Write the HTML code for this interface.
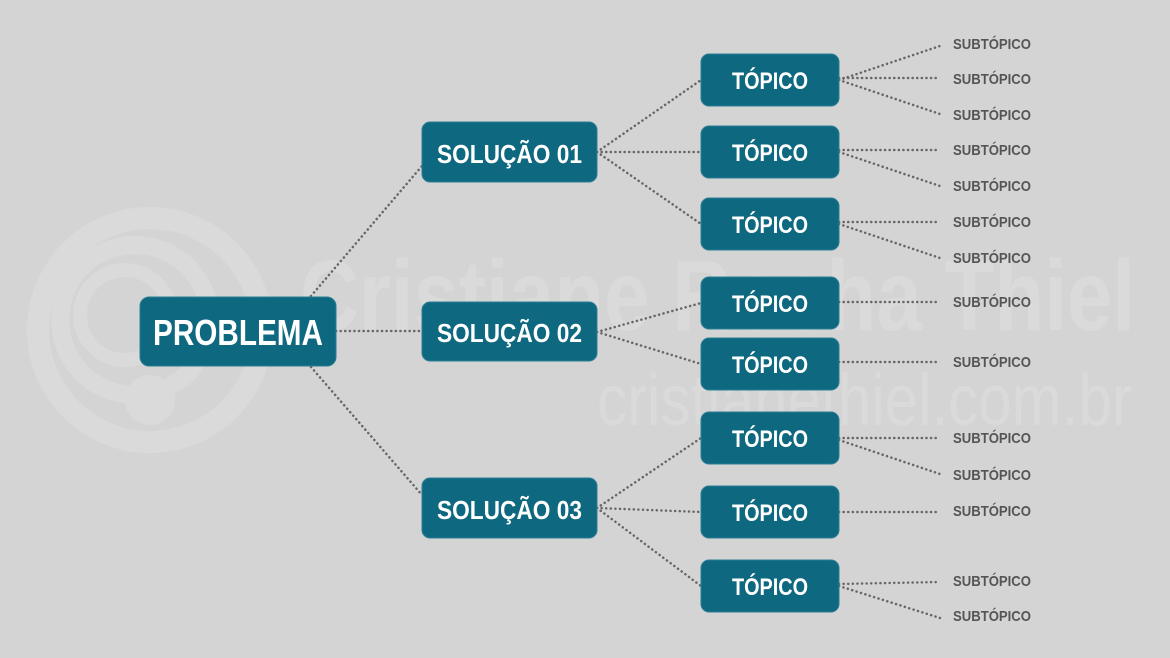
<!DOCTYPE html>
<html><head><meta charset="utf-8"><style>
html,body{margin:0;padding:0;background:#d4d4d4;}
svg{display:block;}
</style></head><body>
<svg width="1170" height="658" viewBox="0 0 1170 658" xmlns="http://www.w3.org/2000/svg">
<rect width="1170" height="658" fill="#d4d4d4"/>
<!-- watermark -->
<g fill="none" stroke="#dadada">
<circle cx="150" cy="330" r="112" stroke-width="22"/>
<circle cx="135" cy="320" r="75" stroke-width="18"/>
<circle cx="125" cy="315" r="45" stroke-width="14"/>
</g>
<circle cx="150" cy="400" r="25" fill="#dadada"/>
<text x="300" y="330" font-family="Liberation Sans, sans-serif" font-weight="bold" font-size="100" fill="#dadada" textLength="835" lengthAdjust="spacingAndGlyphs">Cristiane Rocha Thiel</text>
<text x="597" y="425" font-family="Liberation Sans, sans-serif" font-size="72" fill="#dadada" textLength="535" lengthAdjust="spacingAndGlyphs">cristianethiel.com.br</text>
<!-- connectors -->
<g stroke="#666" stroke-width="2.5" stroke-dasharray="0.1 4.5" stroke-linecap="round" fill="none">
<line x1="311" y1="296" x2="422" y2="166"/>
<line x1="336" y1="331" x2="422" y2="331"/>
<line x1="311" y1="367" x2="422" y2="495"/>
<line x1="597" y1="152" x2="701" y2="80"/>
<line x1="597" y1="152" x2="701" y2="152"/>
<line x1="597" y1="152" x2="701" y2="224"/>
<line x1="597" y1="332" x2="701" y2="303"/>
<line x1="597" y1="332" x2="701" y2="364"/>
<line x1="597" y1="508" x2="701" y2="438"/>
<line x1="597" y1="508" x2="701" y2="512"/>
<line x1="597" y1="508" x2="701" y2="586"/>
<line x1="839" y1="80" x2="940" y2="46"/>
<line x1="839" y1="78" x2="940" y2="78"/>
<line x1="839" y1="80" x2="940" y2="114"/>
<line x1="839" y1="150" x2="940" y2="150"/>
<line x1="839" y1="152" x2="940" y2="186"/>
<line x1="839" y1="222" x2="940" y2="222"/>
<line x1="839" y1="224" x2="940" y2="258"/>
<line x1="839" y1="302" x2="940" y2="302"/>
<line x1="839" y1="362" x2="940" y2="362"/>
<line x1="839" y1="438" x2="940" y2="438"/>
<line x1="839" y1="440" x2="940" y2="474"/>
<line x1="839" y1="512" x2="940" y2="512"/>
<line x1="839" y1="584" x2="940" y2="582"/>
<line x1="839" y1="586" x2="940" y2="618"/>
</g>
<!-- boxes -->
<g fill="#0e6880" stroke="#2a7f94" stroke-width="1">
<rect x="140" y="297" width="196" height="69" rx="9"/>
<rect x="422" y="122" width="175" height="60" rx="8"/>
<rect x="422" y="302" width="175" height="59" rx="8"/>
<rect x="422" y="478" width="175" height="60" rx="8"/>
<rect x="701" y="54" width="138" height="52" rx="8"/>
<rect x="701" y="126" width="138" height="52" rx="8"/>
<rect x="701" y="198" width="138" height="52" rx="8"/>
<rect x="701" y="277" width="138" height="52" rx="8"/>
<rect x="701" y="338" width="138" height="52" rx="8"/>
<rect x="701" y="412" width="138" height="52" rx="8"/>
<rect x="701" y="486" width="138" height="52" rx="8"/>
<rect x="701" y="560" width="138" height="52" rx="8"/>
</g>
<g font-family="Liberation Sans, sans-serif" font-weight="bold" fill="#fff" lengthAdjust="spacingAndGlyphs">
<text x="153" y="345" font-size="36" textLength="170" lengthAdjust="spacingAndGlyphs">PROBLEMA</text>
<text x="437" y="163" font-size="26" textLength="145" lengthAdjust="spacingAndGlyphs">SOLUÇÃO 01</text>
<text x="437" y="342" font-size="26" textLength="145" lengthAdjust="spacingAndGlyphs">SOLUÇÃO 02</text>
<text x="437" y="519" font-size="26" textLength="145" lengthAdjust="spacingAndGlyphs">SOLUÇÃO 03</text>
<text x="732" y="89" font-size="24" textLength="76" lengthAdjust="spacingAndGlyphs">TÓPICO</text>
<text x="732" y="161" font-size="24" textLength="76" lengthAdjust="spacingAndGlyphs">TÓPICO</text>
<text x="732" y="233" font-size="24" textLength="76" lengthAdjust="spacingAndGlyphs">TÓPICO</text>
<text x="732" y="312" font-size="24" textLength="76" lengthAdjust="spacingAndGlyphs">TÓPICO</text>
<text x="732" y="373" font-size="24" textLength="76" lengthAdjust="spacingAndGlyphs">TÓPICO</text>
<text x="732" y="447" font-size="24" textLength="76" lengthAdjust="spacingAndGlyphs">TÓPICO</text>
<text x="732" y="521" font-size="24" textLength="76" lengthAdjust="spacingAndGlyphs">TÓPICO</text>
<text x="732" y="595" font-size="24" textLength="76" lengthAdjust="spacingAndGlyphs">TÓPICO</text>
</g>
<g font-family="Liberation Sans, sans-serif" font-weight="bold" fill="#555" font-size="15">
<text x="953" y="49" textLength="78" lengthAdjust="spacingAndGlyphs">SUBTÓPICO</text>
<text x="953" y="84" textLength="78" lengthAdjust="spacingAndGlyphs">SUBTÓPICO</text>
<text x="953" y="120" textLength="78" lengthAdjust="spacingAndGlyphs">SUBTÓPICO</text>
<text x="953" y="155" textLength="78" lengthAdjust="spacingAndGlyphs">SUBTÓPICO</text>
<text x="953" y="191" textLength="78" lengthAdjust="spacingAndGlyphs">SUBTÓPICO</text>
<text x="953" y="227" textLength="78" lengthAdjust="spacingAndGlyphs">SUBTÓPICO</text>
<text x="953" y="263" textLength="78" lengthAdjust="spacingAndGlyphs">SUBTÓPICO</text>
<text x="953" y="307" textLength="78" lengthAdjust="spacingAndGlyphs">SUBTÓPICO</text>
<text x="953" y="367" textLength="78" lengthAdjust="spacingAndGlyphs">SUBTÓPICO</text>
<text x="953" y="443" textLength="78" lengthAdjust="spacingAndGlyphs">SUBTÓPICO</text>
<text x="953" y="480" textLength="78" lengthAdjust="spacingAndGlyphs">SUBTÓPICO</text>
<text x="953" y="516" textLength="78" lengthAdjust="spacingAndGlyphs">SUBTÓPICO</text>
<text x="953" y="586" textLength="78" lengthAdjust="spacingAndGlyphs">SUBTÓPICO</text>
<text x="953" y="621" textLength="78" lengthAdjust="spacingAndGlyphs">SUBTÓPICO</text>
</g>
</svg>
</body></html>
